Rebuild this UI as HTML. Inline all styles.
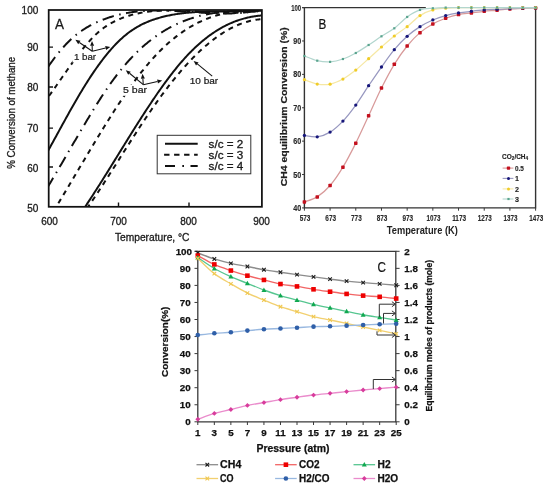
<!DOCTYPE html>
<html><head><meta charset="utf-8"><title>Methane conversion charts</title>
<style>html,body{margin:0;padding:0;background:#fff;} svg{display:block;filter:blur(0.25px);}</style></head>
<body><svg width="550" height="489" viewBox="0 0 550 489">
<rect width="550" height="489" fill="#fff"/>
<g id="chartA" font-family="'Liberation Sans', Arial, Helvetica, sans-serif" fill="#1a1a1a">
<clipPath id="clipA"><rect x="48.7" y="10" width="213.2" height="196.8"/></clipPath>
<g clip-path="url(#clipA)" fill="none" stroke="#111" stroke-width="2">
<path d="M42,76.19 L43.01,74.6 L44.02,73.03 L45.03,71.47 L46.04,69.94 L47.05,68.44 L48.05,66.95 L49.06,65.48 L50.07,64.04 L51.08,62.62 L52.09,61.22 L53.1,59.84 L54.11,58.48 L55.12,57.15 L56.13,55.84 L57.14,54.55 L58.15,53.29 L59.16,52.05 L60.16,50.83 L61.17,49.64 L62.18,48.47 L63.19,47.33 L64.2,46.21 L65.21,45.11 L66.22,44.04 L67.23,43 L68.24,41.98 L69.25,40.99 L70.26,40.02 L71.26,39.07 L72.27,38.16 L73.28,37.27 L74.29,36.4 L75.3,35.56 L76.31,34.74 L77.32,33.94 L78.33,33.17 L79.34,32.42 L80.35,31.69 L81.36,30.98 L82.37,30.29 L83.37,29.62 L84.38,28.97 L85.39,28.34 L86.4,27.72 L87.41,27.12 L88.42,26.54 L89.43,25.98 L90.44,25.43 L91.45,24.89 L92.46,24.37 L93.47,23.87 L94.47,23.37 L95.48,22.89 L96.49,22.42 L97.5,21.96 L98.51,21.52 L99.52,21.08 L100.53,20.66 L101.54,20.24 L102.55,19.84 L103.56,19.45 L104.57,19.06 L105.58,18.69 L106.58,18.33 L107.59,17.98 L108.6,17.64 L109.61,17.3 L110.62,16.98 L111.63,16.67 L112.64,16.36 L113.65,16.07 L114.66,15.79 L115.67,15.51 L116.68,15.24 L117.68,14.98 L118.69,14.74 L119.7,14.5 L120.71,14.26 L121.72,14.04 L122.73,13.82 L123.74,13.62 L124.75,13.42 L125.76,13.23 L126.77,13.04 L127.78,12.87 L128.79,12.7 L129.79,12.54 L130.8,12.38 L131.81,12.24 L132.82,12.1 L133.83,11.97 L134.84,11.84 L135.85,11.72 L136.86,11.61 L137.87,11.51 L138.88,11.41 L139.89,11.31 L140.89,11.23 L141.9,11.14 L142.91,11.07 L143.92,11 L144.93,10.94 L145.94,10.88 L146.95,10.83 L147.96,10.78 L148.97,10.74 L149.98,10.7 L150.99,10.67 L152,10.64 L153,10.62 L154.01,10.6 L155.02,10.58 L156.03,10.57 L157.04,10.57 L158.05,10.57 L159.06,10.57 L160.07,10.58 L161.08,10.59 L162.09,10.6 L163.1,10.62 L164.11,10.64 L165.11,10.66 L166.12,10.69 L167.13,10.72 L168.14,10.75 L169.15,10.79 L170.16,10.82 L171.17,10.86 L172.18,10.91 L173.19,10.95 L174.2,11 L175.21,11.05 L176.21,11.1 L177.22,11.16 L178.23,11.21 L179.24,11.27 L180.25,11.33 L181.26,11.38 L182.27,11.45 L183.28,11.51 L184.29,11.57 L185.3,11.63 L186.31,11.7 L187.32,11.76 L188.32,11.83 L189.33,11.89 L190.34,11.96 L191.35,12.02 L192.36,12.09 L193.37,12.16 L194.38,12.22 L195.39,12.29 L196.4,12.35 L197.41,12.42 L198.42,12.48 L199.42,12.54 L200.43,12.6 L201.44,12.67 L202.45,12.72 L203.46,12.78 L204.47,12.84 L205.48,12.89 L206.49,12.95 L207.5,13 L208.51,13.05 L209.52,13.1 L210.53,13.14 L211.53,13.19 L212.54,13.23 L213.55,13.27 L214.56,13.3 L215.57,13.34 L216.58,13.37 L217.59,13.39 L218.6,13.42 L219.61,13.44 L220.62,13.46 L221.63,13.47 L222.63,13.48 L223.64,13.49 L224.65,13.49 L225.66,13.49 L226.67,13.48 L227.68,13.47 L228.69,13.46 L229.7,13.44 L230.71,13.42 L231.72,13.39 L232.73,13.36 L233.74,13.33 L234.74,13.28 L235.75,13.24 L236.76,13.18 L237.77,13.13 L238.78,13.06 L239.79,12.99 L240.8,12.92 L241.81,12.84 L242.82,12.75 L243.83,12.66 L244.84,12.56 L245.84,12.46 L246.85,12.35 L247.86,12.23 L248.87,12.1 L249.88,11.97 L250.89,11.83 L251.9,11.69 L252.91,11.53 L253.92,11.37 L254.93,11.21 L255.94,11.03 L256.95,10.85 L257.95,10.66 L258.96,10.46 L259.97,10.25 L260.98,10.04 L261.99,9.82 L263,9.59" stroke-dasharray="11.7 5.6 1.5 5.5" stroke-dashoffset="12.72"/>
<path d="M42,105.29 L43.01,103.99 L44.02,102.68 L45.03,101.35 L46.04,100.01 L47.05,98.65 L48.05,97.28 L49.06,95.9 L50.07,94.51 L51.08,93.11 L52.09,91.7 L53.1,90.28 L54.11,88.85 L55.12,87.42 L56.13,85.98 L57.14,84.54 L58.15,83.09 L59.16,81.64 L60.16,80.19 L61.17,78.73 L62.18,77.28 L63.19,75.83 L64.2,74.37 L65.21,72.92 L66.22,71.48 L67.23,70.03 L68.24,68.6 L69.25,67.16 L70.26,65.74 L71.26,64.32 L72.27,62.91 L73.28,61.51 L74.29,60.12 L75.3,58.74 L76.31,57.37 L77.32,56.02 L78.33,54.68 L79.34,53.35 L80.35,52.04 L81.36,50.74 L82.37,49.46 L83.37,48.2 L84.38,46.96 L85.39,45.74 L86.4,44.54 L87.41,43.36 L88.42,42.21 L89.43,41.07 L90.44,39.96 L91.45,38.88 L92.46,37.82 L93.47,36.79 L94.47,35.78 L95.48,34.81 L96.49,33.86 L97.5,32.95 L98.51,32.06 L99.52,31.2 L100.53,30.36 L101.54,29.56 L102.55,28.78 L103.56,28.03 L104.57,27.3 L105.58,26.59 L106.58,25.91 L107.59,25.26 L108.6,24.62 L109.61,24.01 L110.62,23.42 L111.63,22.85 L112.64,22.3 L113.65,21.77 L114.66,21.26 L115.67,20.77 L116.68,20.29 L117.68,19.83 L118.69,19.39 L119.7,18.97 L120.71,18.56 L121.72,18.16 L122.73,17.78 L123.74,17.41 L124.75,17.05 L125.76,16.71 L126.77,16.38 L127.78,16.06 L128.79,15.75 L129.79,15.45 L130.8,15.16 L131.81,14.88 L132.82,14.61 L133.83,14.35 L134.84,14.1 L135.85,13.86 L136.86,13.63 L137.87,13.41 L138.88,13.2 L139.89,13 L140.89,12.8 L141.9,12.62 L142.91,12.44 L143.92,12.27 L144.93,12.11 L145.94,11.96 L146.95,11.82 L147.96,11.68 L148.97,11.55 L149.98,11.43 L150.99,11.32 L152,11.21 L153,11.11 L154.01,11.02 L155.02,10.93 L156.03,10.86 L157.04,10.78 L158.05,10.72 L159.06,10.66 L160.07,10.6 L161.08,10.56 L162.09,10.51 L163.1,10.48 L164.11,10.45 L165.11,10.42 L166.12,10.4 L167.13,10.38 L168.14,10.37 L169.15,10.37 L170.16,10.37 L171.17,10.37 L172.18,10.38 L173.19,10.39 L174.2,10.4 L175.21,10.42 L176.21,10.44 L177.22,10.47 L178.23,10.5 L179.24,10.53 L180.25,10.57 L181.26,10.61 L182.27,10.65 L183.28,10.69 L184.29,10.74 L185.3,10.79 L186.31,10.84 L187.32,10.89 L188.32,10.95 L189.33,11 L190.34,11.06 L191.35,11.12 L192.36,11.18 L193.37,11.24 L194.38,11.31 L195.39,11.37 L196.4,11.44 L197.41,11.5 L198.42,11.57 L199.42,11.63 L200.43,11.7 L201.44,11.76 L202.45,11.83 L203.46,11.89 L204.47,11.96 L205.48,12.02 L206.49,12.09 L207.5,12.15 L208.51,12.21 L209.52,12.27 L210.53,12.33 L211.53,12.39 L212.54,12.44 L213.55,12.49 L214.56,12.55 L215.57,12.59 L216.58,12.64 L217.59,12.69 L218.6,12.73 L219.61,12.77 L220.62,12.8 L221.63,12.84 L222.63,12.87 L223.64,12.89 L224.65,12.92 L225.66,12.94 L226.67,12.95 L227.68,12.96 L228.69,12.97 L229.7,12.98 L230.71,12.97 L231.72,12.97 L232.73,12.96 L233.74,12.94 L234.74,12.92 L235.75,12.9 L236.76,12.87 L237.77,12.83 L238.78,12.79 L239.79,12.75 L240.8,12.69 L241.81,12.63 L242.82,12.57 L243.83,12.5 L244.84,12.42 L245.84,12.34 L246.85,12.24 L247.86,12.15 L248.87,12.04 L249.88,11.93 L250.89,11.81 L251.9,11.68 L252.91,11.55 L253.92,11.4 L254.93,11.25 L255.94,11.09 L256.95,10.93 L257.95,10.75 L258.96,10.57 L259.97,10.38 L260.98,10.17 L261.99,9.96 L263,9.74" stroke-dasharray="5.0 4.6" stroke-dashoffset="7.53"/>
<path d="M42,161.63 L43.01,159.85 L44.02,158.06 L45.03,156.26 L46.04,154.45 L47.05,152.64 L48.05,150.83 L49.06,149 L50.07,147.18 L51.08,145.35 L52.09,143.51 L53.1,141.67 L54.11,139.83 L55.12,137.99 L56.13,136.15 L57.14,134.31 L58.15,132.46 L59.16,130.62 L60.16,128.78 L61.17,126.94 L62.18,125.1 L63.19,123.27 L64.2,121.44 L65.21,119.61 L66.22,117.79 L67.23,115.97 L68.24,114.16 L69.25,112.35 L70.26,110.55 L71.26,108.76 L72.27,106.98 L73.28,105.21 L74.29,103.44 L75.3,101.69 L76.31,99.94 L77.32,98.21 L78.33,96.49 L79.34,94.78 L80.35,93.08 L81.36,91.39 L82.37,89.72 L83.37,88.07 L84.38,86.43 L85.39,84.8 L86.4,83.19 L87.41,81.6 L88.42,80.02 L89.43,78.46 L90.44,76.92 L91.45,75.39 L92.46,73.88 L93.47,72.39 L94.47,70.91 L95.48,69.45 L96.49,68.01 L97.5,66.59 L98.51,65.18 L99.52,63.8 L100.53,62.43 L101.54,61.08 L102.55,59.75 L103.56,58.44 L104.57,57.15 L105.58,55.88 L106.58,54.63 L107.59,53.4 L108.6,52.18 L109.61,50.99 L110.62,49.83 L111.63,48.68 L112.64,47.55 L113.65,46.44 L114.66,45.36 L115.67,44.3 L116.68,43.26 L117.68,42.24 L118.69,41.24 L119.7,40.27 L120.71,39.32 L121.72,38.39 L122.73,37.49 L123.74,36.61 L124.75,35.75 L125.76,34.92 L126.77,34.11 L127.78,33.32 L128.79,32.55 L129.79,31.81 L130.8,31.09 L131.81,30.39 L132.82,29.71 L133.83,29.05 L134.84,28.41 L135.85,27.79 L136.86,27.19 L137.87,26.61 L138.88,26.05 L139.89,25.5 L140.89,24.97 L141.9,24.46 L142.91,23.96 L143.92,23.48 L144.93,23.01 L145.94,22.56 L146.95,22.13 L147.96,21.71 L148.97,21.3 L149.98,20.91 L150.99,20.53 L152,20.16 L153,19.8 L154.01,19.46 L155.02,19.12 L156.03,18.8 L157.04,18.49 L158.05,18.18 L159.06,17.89 L160.07,17.6 L161.08,17.33 L162.09,17.06 L163.1,16.8 L164.11,16.55 L165.11,16.31 L166.12,16.07 L167.13,15.85 L168.14,15.63 L169.15,15.41 L170.16,15.21 L171.17,15.01 L172.18,14.82 L173.19,14.64 L174.2,14.46 L175.21,14.29 L176.21,14.13 L177.22,13.97 L178.23,13.82 L179.24,13.68 L180.25,13.54 L181.26,13.41 L182.27,13.28 L183.28,13.16 L184.29,13.04 L185.3,12.93 L186.31,12.83 L187.32,12.73 L188.32,12.63 L189.33,12.54 L190.34,12.46 L191.35,12.38 L192.36,12.3 L193.37,12.23 L194.38,12.16 L195.39,12.1 L196.4,12.04 L197.41,11.98 L198.42,11.93 L199.42,11.88 L200.43,11.83 L201.44,11.79 L202.45,11.75 L203.46,11.72 L204.47,11.68 L205.48,11.65 L206.49,11.62 L207.5,11.6 L208.51,11.57 L209.52,11.55 L210.53,11.53 L211.53,11.51 L212.54,11.5 L213.55,11.48 L214.56,11.47 L215.57,11.46 L216.58,11.45 L217.59,11.44 L218.6,11.43 L219.61,11.42 L220.62,11.41 L221.63,11.41 L222.63,11.4 L223.64,11.4 L224.65,11.39 L225.66,11.38 L226.67,11.38 L227.68,11.37 L228.69,11.37 L229.7,11.36 L230.71,11.35 L231.72,11.34 L232.73,11.33 L233.74,11.32 L234.74,11.31 L235.75,11.3 L236.76,11.28 L237.77,11.26 L238.78,11.25 L239.79,11.23 L240.8,11.2 L241.81,11.18 L242.82,11.15 L243.83,11.12 L244.84,11.09 L245.84,11.06 L246.85,11.02 L247.86,10.98 L248.87,10.94 L249.88,10.89 L250.89,10.84 L251.9,10.79 L252.91,10.73 L253.92,10.67 L254.93,10.6 L255.94,10.53 L256.95,10.46 L257.95,10.38 L258.96,10.3 L259.97,10.22 L260.98,10.12 L261.99,10.03 L263,9.93"/>
<path d="M42,196.43 L43.01,194.79 L44.02,193.15 L45.03,191.5 L46.04,189.85 L47.05,188.18 L48.05,186.51 L49.06,184.84 L50.07,183.16 L51.08,181.47 L52.09,179.78 L53.1,178.09 L54.11,176.39 L55.12,174.68 L56.13,172.97 L57.14,171.26 L58.15,169.55 L59.16,167.83 L60.16,166.11 L61.17,164.38 L62.18,162.66 L63.19,160.93 L64.2,159.2 L65.21,157.47 L66.22,155.73 L67.23,154 L68.24,152.27 L69.25,150.53 L70.26,148.8 L71.26,147.06 L72.27,145.33 L73.28,143.6 L74.29,141.86 L75.3,140.13 L76.31,138.4 L77.32,136.67 L78.33,134.95 L79.34,133.23 L80.35,131.51 L81.36,129.79 L82.37,128.08 L83.37,126.37 L84.38,124.66 L85.39,122.96 L86.4,121.27 L87.41,119.58 L88.42,117.9 L89.43,116.23 L90.44,114.56 L91.45,112.9 L92.46,111.25 L93.47,109.61 L94.47,107.97 L95.48,106.35 L96.49,104.74 L97.5,103.13 L98.51,101.54 L99.52,99.96 L100.53,98.39 L101.54,96.83 L102.55,95.28 L103.56,93.75 L104.57,92.23 L105.58,90.73 L106.58,89.23 L107.59,87.76 L108.6,86.3 L109.61,84.85 L110.62,83.42 L111.63,82.01 L112.64,80.61 L113.65,79.23 L114.66,77.87 L115.67,76.53 L116.68,75.2 L117.68,73.89 L118.69,72.6 L119.7,71.33 L120.71,70.08 L121.72,68.84 L122.73,67.62 L123.74,66.41 L124.75,65.23 L125.76,64.06 L126.77,62.9 L127.78,61.77 L128.79,60.64 L129.79,59.54 L130.8,58.45 L131.81,57.38 L132.82,56.32 L133.83,55.28 L134.84,54.26 L135.85,53.25 L136.86,52.26 L137.87,51.28 L138.88,50.32 L139.89,49.37 L140.89,48.44 L141.9,47.52 L142.91,46.62 L143.92,45.73 L144.93,44.85 L145.94,43.99 L146.95,43.15 L147.96,42.32 L148.97,41.5 L149.98,40.7 L150.99,39.91 L152,39.13 L153,38.37 L154.01,37.62 L155.02,36.89 L156.03,36.17 L157.04,35.46 L158.05,34.76 L159.06,34.08 L160.07,33.41 L161.08,32.76 L162.09,32.11 L163.1,31.48 L164.11,30.86 L165.11,30.25 L166.12,29.66 L167.13,29.07 L168.14,28.5 L169.15,27.94 L170.16,27.39 L171.17,26.86 L172.18,26.33 L173.19,25.82 L174.2,25.31 L175.21,24.82 L176.21,24.34 L177.22,23.87 L178.23,23.41 L179.24,22.96 L180.25,22.52 L181.26,22.09 L182.27,21.68 L183.28,21.27 L184.29,20.87 L185.3,20.48 L186.31,20.1 L187.32,19.73 L188.32,19.38 L189.33,19.03 L190.34,18.68 L191.35,18.35 L192.36,18.03 L193.37,17.72 L194.38,17.41 L195.39,17.12 L196.4,16.83 L197.41,16.55 L198.42,16.28 L199.42,16.02 L200.43,15.76 L201.44,15.51 L202.45,15.28 L203.46,15.04 L204.47,14.82 L205.48,14.6 L206.49,14.4 L207.5,14.19 L208.51,14 L209.52,13.81 L210.53,13.63 L211.53,13.46 L212.54,13.29 L213.55,13.13 L214.56,12.98 L215.57,12.83 L216.58,12.69 L217.59,12.56 L218.6,12.43 L219.61,12.3 L220.62,12.19 L221.63,12.07 L222.63,11.97 L223.64,11.87 L224.65,11.77 L225.66,11.68 L226.67,11.6 L227.68,11.51 L228.69,11.44 L229.7,11.37 L230.71,11.3 L231.72,11.24 L232.73,11.18 L233.74,11.13 L234.74,11.08 L235.75,11.03 L236.76,10.99 L237.77,10.95 L238.78,10.92 L239.79,10.89 L240.8,10.86 L241.81,10.84 L242.82,10.82 L243.83,10.8 L244.84,10.78 L245.84,10.77 L246.85,10.76 L247.86,10.75 L248.87,10.75 L249.88,10.75 L250.89,10.75 L251.9,10.75 L252.91,10.75 L253.92,10.76 L254.93,10.77 L255.94,10.78 L256.95,10.79 L257.95,10.8 L258.96,10.81 L259.97,10.83 L260.98,10.84 L261.99,10.86 L263,10.88" stroke-dasharray="11.7 5.6 1.5 5.5" stroke-dashoffset="14.32"/>
<path d="M49.2,218.14 L50.18,216.57 L51.15,215 L52.13,213.42 L53.11,211.83 L54.08,210.24 L55.06,208.65 L56.03,207.05 L57.01,205.44 L57.99,203.84 L58.96,202.23 L59.94,200.61 L60.92,198.99 L61.89,197.37 L62.87,195.75 L63.84,194.12 L64.82,192.49 L65.8,190.86 L66.77,189.23 L67.75,187.59 L68.73,185.95 L69.7,184.31 L70.68,182.67 L71.65,181.03 L72.63,179.38 L73.61,177.74 L74.58,176.09 L75.56,174.45 L76.54,172.8 L77.51,171.15 L78.49,169.51 L79.46,167.86 L80.44,166.21 L81.42,164.57 L82.39,162.92 L83.37,161.28 L84.35,159.64 L85.32,157.99 L86.3,156.35 L87.27,154.72 L88.25,153.08 L89.23,151.44 L90.2,149.81 L91.18,148.18 L92.16,146.55 L93.13,144.93 L94.11,143.31 L95.08,141.69 L96.06,140.08 L97.04,138.46 L98.01,136.86 L98.99,135.25 L99.97,133.65 L100.94,132.06 L101.92,130.47 L102.89,128.88 L103.87,127.3 L104.85,125.73 L105.82,124.16 L106.8,122.59 L107.78,121.03 L108.75,119.48 L109.73,117.93 L110.7,116.39 L111.68,114.85 L112.66,113.33 L113.63,111.8 L114.61,110.29 L115.59,108.78 L116.56,107.28 L117.54,105.79 L118.51,104.31 L119.49,102.83 L120.47,101.36 L121.44,99.9 L122.42,98.45 L123.4,97 L124.37,95.57 L125.35,94.15 L126.32,92.73 L127.3,91.32 L128.28,89.93 L129.25,88.54 L130.23,87.16 L131.21,85.79 L132.18,84.44 L133.16,83.09 L134.13,81.76 L135.11,80.43 L136.09,79.12 L137.06,77.82 L138.04,76.53 L139.02,75.25 L139.99,73.98 L140.97,72.73 L141.94,71.49 L142.92,70.26 L143.9,69.04 L144.87,67.83 L145.85,66.64 L146.83,65.46 L147.8,64.3 L148.78,63.15 L149.75,62.01 L150.73,60.89 L151.71,59.78 L152.68,58.68 L153.66,57.6 L154.64,56.54 L155.61,55.49 L156.59,54.45 L157.56,53.43 L158.54,52.42 L159.52,51.42 L160.49,50.44 L161.47,49.48 L162.45,48.53 L163.42,47.59 L164.4,46.66 L165.37,45.75 L166.35,44.86 L167.33,43.97 L168.3,43.1 L169.28,42.25 L170.26,41.41 L171.23,40.58 L172.21,39.76 L173.18,38.96 L174.16,38.17 L175.14,37.39 L176.11,36.63 L177.09,35.88 L178.07,35.14 L179.04,34.41 L180.02,33.7 L180.99,33 L181.97,32.31 L182.95,31.64 L183.92,30.97 L184.9,30.32 L185.88,29.68 L186.85,29.06 L187.83,28.44 L188.8,27.84 L189.78,27.25 L190.76,26.68 L191.73,26.11 L192.71,25.55 L193.69,25.01 L194.66,24.48 L195.64,23.96 L196.61,23.45 L197.59,22.96 L198.57,22.47 L199.54,22 L200.52,21.53 L201.5,21.08 L202.47,20.64 L203.45,20.21 L204.42,19.79 L205.4,19.38 L206.38,18.99 L207.35,18.6 L208.33,18.22 L209.31,17.86 L210.28,17.5 L211.26,17.16 L212.23,16.82 L213.21,16.5 L214.19,16.18 L215.16,15.88 L216.14,15.58 L217.12,15.3 L218.09,15.03 L219.07,14.76 L220.04,14.51 L221.02,14.26 L222,14.03 L222.97,13.8 L223.95,13.58 L224.93,13.38 L225.9,13.18 L226.88,12.99 L227.85,12.81 L228.83,12.64 L229.81,12.48 L230.78,12.32 L231.76,12.18 L232.74,12.05 L233.71,11.92 L234.69,11.8 L235.66,11.69 L236.64,11.59 L237.62,11.5 L238.59,11.42 L239.57,11.34 L240.55,11.27 L241.52,11.21 L242.5,11.16 L243.47,11.12 L244.45,11.09 L245.43,11.06 L246.4,11.04 L247.38,11.03 L248.36,11.02 L249.33,11.03 L250.31,11.04 L251.28,11.06 L252.26,11.08 L253.24,11.11 L254.21,11.15 L255.19,11.2 L256.17,11.26 L257.14,11.32 L258.12,11.39 L259.09,11.46 L260.07,11.54 L261.05,11.63 L262.02,11.73 L263,11.83" stroke-dasharray="5.0 4.6" stroke-dashoffset="1.7"/>
<path d="M78.8,216.05 L79.64,214.84 L80.48,213.62 L81.32,212.4 L82.16,211.17 L83.01,209.93 L83.85,208.69 L84.69,207.44 L85.53,206.19 L86.37,204.93 L87.21,203.67 L88.05,202.4 L88.89,201.12 L89.73,199.84 L90.58,198.56 L91.42,197.27 L92.26,195.98 L93.1,194.68 L93.94,193.38 L94.78,192.08 L95.62,190.77 L96.46,189.45 L97.3,188.14 L98.15,186.82 L98.99,185.49 L99.83,184.17 L100.67,182.84 L101.51,181.5 L102.35,180.17 L103.19,178.83 L104.03,177.49 L104.87,176.15 L105.72,174.8 L106.56,173.45 L107.4,172.11 L108.24,170.75 L109.08,169.4 L109.92,168.05 L110.76,166.69 L111.6,165.33 L112.44,163.98 L113.28,162.62 L114.13,161.26 L114.97,159.9 L115.81,158.54 L116.65,157.17 L117.49,155.81 L118.33,154.45 L119.17,153.09 L120.01,151.73 L120.85,150.36 L121.7,149 L122.54,147.64 L123.38,146.28 L124.22,144.92 L125.06,143.56 L125.9,142.21 L126.74,140.85 L127.58,139.49 L128.42,138.14 L129.27,136.79 L130.11,135.44 L130.95,134.09 L131.79,132.75 L132.63,131.4 L133.47,130.06 L134.31,128.72 L135.15,127.39 L135.99,126.05 L136.84,124.72 L137.68,123.39 L138.52,122.07 L139.36,120.75 L140.2,119.43 L141.04,118.12 L141.88,116.81 L142.72,115.5 L143.56,114.2 L144.41,112.9 L145.25,111.61 L146.09,110.32 L146.93,109.03 L147.77,107.75 L148.61,106.48 L149.45,105.2 L150.29,103.94 L151.13,102.68 L151.98,101.42 L152.82,100.17 L153.66,98.93 L154.5,97.69 L155.34,96.46 L156.18,95.24 L157.02,94.02 L157.86,92.8 L158.7,91.6 L159.55,90.4 L160.39,89.2 L161.23,88.02 L162.07,86.84 L162.91,85.67 L163.75,84.5 L164.59,83.34 L165.43,82.19 L166.27,81.05 L167.12,79.92 L167.96,78.79 L168.8,77.67 L169.64,76.56 L170.48,75.46 L171.32,74.37 L172.16,73.29 L173,72.21 L173.84,71.15 L174.68,70.09 L175.53,69.04 L176.37,68 L177.21,66.98 L178.05,65.96 L178.89,64.95 L179.73,63.95 L180.57,62.96 L181.41,61.98 L182.25,61.01 L183.1,60.06 L183.94,59.11 L184.78,58.17 L185.62,57.25 L186.46,56.33 L187.3,55.43 L188.14,54.54 L188.98,53.66 L189.82,52.79 L190.67,51.93 L191.51,51.08 L192.35,50.25 L193.19,49.42 L194.03,48.61 L194.87,47.81 L195.71,47.01 L196.55,46.23 L197.39,45.46 L198.24,44.7 L199.08,43.95 L199.92,43.22 L200.76,42.49 L201.6,41.77 L202.44,41.07 L203.28,40.37 L204.12,39.69 L204.96,39.01 L205.81,38.35 L206.65,37.69 L207.49,37.05 L208.33,36.42 L209.17,35.79 L210.01,35.18 L210.85,34.58 L211.69,33.99 L212.53,33.41 L213.38,32.83 L214.22,32.27 L215.06,31.72 L215.9,31.18 L216.74,30.65 L217.58,30.12 L218.42,29.61 L219.26,29.11 L220.1,28.62 L220.95,28.13 L221.79,27.66 L222.63,27.19 L223.47,26.74 L224.31,26.3 L225.15,25.86 L225.99,25.43 L226.83,25.02 L227.67,24.61 L228.52,24.21 L229.36,23.83 L230.2,23.45 L231.04,23.08 L231.88,22.72 L232.72,22.36 L233.56,22.02 L234.4,21.69 L235.24,21.36 L236.08,21.05 L236.93,20.74 L237.77,20.44 L238.61,20.15 L239.45,19.87 L240.29,19.6 L241.13,19.34 L241.97,19.09 L242.81,18.84 L243.65,18.6 L244.5,18.38 L245.34,18.16 L246.18,17.94 L247.02,17.74 L247.86,17.55 L248.7,17.36 L249.54,17.18 L250.38,17.01 L251.22,16.85 L252.07,16.7 L252.91,16.56 L253.75,16.42 L254.59,16.29 L255.43,16.17 L256.27,16.06 L257.11,15.95 L257.95,15.85 L258.79,15.77 L259.64,15.68 L260.48,15.61 L261.32,15.55 L262.16,15.49 L263,15.44"/>
<path d="M81.2,216.37 L82.03,215.24 L82.86,214.11 L83.69,212.96 L84.52,211.81 L85.35,210.65 L86.18,209.49 L87.01,208.31 L87.84,207.13 L88.67,205.95 L89.5,204.75 L90.33,203.55 L91.16,202.35 L91.99,201.13 L92.82,199.91 L93.65,198.69 L94.48,197.46 L95.31,196.22 L96.14,194.98 L96.97,193.74 L97.8,192.49 L98.63,191.23 L99.46,189.97 L100.29,188.71 L101.12,187.44 L101.95,186.17 L102.78,184.89 L103.61,183.61 L104.44,182.33 L105.27,181.04 L106.1,179.75 L106.93,178.46 L107.76,177.17 L108.59,175.87 L109.42,174.57 L110.25,173.27 L111.08,171.96 L111.92,170.66 L112.75,169.35 L113.58,168.05 L114.41,166.74 L115.24,165.43 L116.07,164.12 L116.9,162.8 L117.73,161.49 L118.56,160.18 L119.39,158.87 L120.22,157.56 L121.05,156.25 L121.88,154.93 L122.71,153.62 L123.54,152.32 L124.37,151.01 L125.2,149.7 L126.03,148.39 L126.86,147.09 L127.69,145.79 L128.52,144.49 L129.35,143.19 L130.18,141.89 L131.01,140.6 L131.84,139.31 L132.67,138.02 L133.5,136.73 L134.33,135.45 L135.16,134.17 L135.99,132.89 L136.82,131.61 L137.65,130.34 L138.48,129.07 L139.31,127.8 L140.14,126.54 L140.97,125.28 L141.8,124.03 L142.63,122.77 L143.46,121.53 L144.29,120.28 L145.12,119.04 L145.95,117.81 L146.78,116.58 L147.61,115.35 L148.44,114.13 L149.27,112.91 L150.1,111.7 L150.93,110.49 L151.76,109.29 L152.59,108.09 L153.42,106.9 L154.25,105.71 L155.08,104.53 L155.91,103.35 L156.74,102.18 L157.57,101.02 L158.4,99.86 L159.23,98.7 L160.06,97.56 L160.89,96.42 L161.72,95.28 L162.55,94.16 L163.38,93.04 L164.21,91.92 L165.04,90.81 L165.87,89.71 L166.7,88.62 L167.53,87.53 L168.36,86.45 L169.19,85.38 L170.02,84.32 L170.85,83.26 L171.68,82.21 L172.52,81.17 L173.35,80.13 L174.18,79.1 L175.01,78.08 L175.84,77.07 L176.67,76.06 L177.5,75.06 L178.33,74.07 L179.16,73.09 L179.99,72.11 L180.82,71.15 L181.65,70.19 L182.48,69.23 L183.31,68.29 L184.14,67.35 L184.97,66.42 L185.8,65.5 L186.63,64.59 L187.46,63.68 L188.29,62.79 L189.12,61.9 L189.95,61.01 L190.78,60.14 L191.61,59.28 L192.44,58.42 L193.27,57.57 L194.1,56.73 L194.93,55.9 L195.76,55.07 L196.59,54.26 L197.42,53.45 L198.25,52.65 L199.08,51.86 L199.91,51.08 L200.74,50.31 L201.57,49.54 L202.4,48.79 L203.23,48.04 L204.06,47.3 L204.89,46.57 L205.72,45.85 L206.55,45.14 L207.38,44.43 L208.21,43.74 L209.04,43.05 L209.87,42.37 L210.7,41.71 L211.53,41.05 L212.36,40.4 L213.19,39.75 L214.02,39.12 L214.85,38.5 L215.68,37.89 L216.51,37.28 L217.34,36.68 L218.17,36.1 L219,35.52 L219.83,34.95 L220.66,34.4 L221.49,33.85 L222.32,33.31 L223.15,32.78 L223.98,32.26 L224.81,31.75 L225.64,31.24 L226.47,30.75 L227.3,30.27 L228.13,29.8 L228.96,29.33 L229.79,28.88 L230.62,28.44 L231.45,28 L232.28,27.58 L233.12,27.17 L233.95,26.76 L234.78,26.37 L235.61,25.99 L236.44,25.61 L237.27,25.25 L238.1,24.89 L238.93,24.55 L239.76,24.22 L240.59,23.89 L241.42,23.58 L242.25,23.28 L243.08,22.99 L243.91,22.7 L244.74,22.43 L245.57,22.17 L246.4,21.92 L247.23,21.68 L248.06,21.45 L248.89,21.23 L249.72,21.02 L250.55,20.83 L251.38,20.64 L252.21,20.46 L253.04,20.3 L253.87,20.14 L254.7,20 L255.53,19.86 L256.36,19.74 L257.19,19.63 L258.02,19.53 L258.85,19.44 L259.68,19.36 L260.51,19.29 L261.34,19.24 L262.17,19.19 L263,19.16" stroke-dasharray="5.0 4.6" stroke-dashoffset="0.16"/>
</g>
<rect x="48.7" y="10" width="213.2" height="196.8" fill="none" stroke="#111" stroke-width="1.75"/>
<path d="M48.7,47.1h4.3 M48.7,87h4.3 M48.7,128.1h4.3 M48.7,167h4.3 M118.5,206.8v-4.3 M189,206.8v-4.3" stroke="#111" stroke-width="1.4" fill="none"/>
<text x="38.3" y="13.8" font-size="10" text-anchor="end" stroke="#1a1a1a" stroke-width="0.3">100</text>
<text x="38.3" y="50.9" font-size="10" text-anchor="end" stroke="#1a1a1a" stroke-width="0.3">90</text>
<text x="38.3" y="90.8" font-size="10" text-anchor="end" stroke="#1a1a1a" stroke-width="0.3">80</text>
<text x="38.3" y="132.3" font-size="10" text-anchor="end" stroke="#1a1a1a" stroke-width="0.3">70</text>
<text x="38.3" y="171.6" font-size="10" text-anchor="end" stroke="#1a1a1a" stroke-width="0.3">60</text>
<text x="38.3" y="212.2" font-size="10" text-anchor="end" stroke="#1a1a1a" stroke-width="0.3">50</text>
<text x="49.5" y="225" font-size="10" text-anchor="middle" stroke="#1a1a1a" stroke-width="0.3">600</text>
<text x="118.5" y="225" font-size="10" text-anchor="middle" stroke="#1a1a1a" stroke-width="0.3">700</text>
<text x="188.6" y="225" font-size="10" text-anchor="middle" stroke="#1a1a1a" stroke-width="0.3">800</text>
<text x="261.5" y="225" font-size="10" text-anchor="middle" stroke="#1a1a1a" stroke-width="0.3">900</text>
<text x="152.2" y="240.5" font-size="10" text-anchor="middle" stroke="#1a1a1a" stroke-width="0.3" textLength="74.6" lengthAdjust="spacingAndGlyphs">Temperature, °C</text>
<text transform="translate(14.6,112.8) rotate(-90)" font-size="10.6" text-anchor="middle" stroke="#1a1a1a" stroke-width="0.3" textLength="112" lengthAdjust="spacingAndGlyphs">% Conversion of methane</text>
<text x="55.1" y="28.8" font-size="15.2" stroke="#1a1a1a" stroke-width="0.3" textLength="9" lengthAdjust="spacingAndGlyphs">A</text>
<rect x="72.5" y="51.6" width="25" height="10.9" fill="#fff"/>
<rect x="121.8" y="84.9" width="26" height="10.9" fill="#fff"/>
<rect x="188.5" y="75.6" width="31" height="11.5" fill="#fff"/>
<text x="73.9" y="59.5" font-size="9.5" stroke="#1a1a1a" stroke-width="0.22" textLength="22.2" lengthAdjust="spacingAndGlyphs">1 bar</text>
<text x="123.1" y="93.2" font-size="9.5" stroke="#1a1a1a" stroke-width="0.22" textLength="24" lengthAdjust="spacingAndGlyphs">5 bar</text>
<text x="189.8" y="84.4" font-size="9.5" stroke="#1a1a1a" stroke-width="0.22" textLength="28.4" lengthAdjust="spacingAndGlyphs">10 bar</text>
<path d="M92.3,51.3L79.37,42.5" stroke="#111" stroke-width="1.05" fill="none"/><path d="M75.4,39.8L80.49,40.85L78.24,44.15Z" fill="#111"/>
<path d="M92.3,51.3L92.14,45.7" stroke="#111" stroke-width="1.05" fill="none"/><path d="M92,40.9L94.14,45.64L90.14,45.76Z" fill="#111"/>
<path d="M92.3,51.3L105.64,48.04" stroke="#111" stroke-width="1.05" fill="none"/><path d="M110.3,46.9L106.11,49.98L105.16,46.1Z" fill="#111"/>
<path d="M143.3,84.7L129.5,73.26" stroke="#111" stroke-width="1.05" fill="none"/><path d="M125.8,70.2L130.77,71.72L128.22,74.8Z" fill="#111"/>
<path d="M143.3,84.7L142.85,78.59" stroke="#111" stroke-width="1.05" fill="none"/><path d="M142.5,73.8L144.85,78.44L140.86,78.73Z" fill="#111"/>
<path d="M143.3,84.7L157.52,81.46" stroke="#111" stroke-width="1.05" fill="none"/><path d="M162.2,80.4L157.96,83.42L157.08,79.51Z" fill="#111"/>
<path d="M212.2,76.2L197.31,63.95" stroke="#111" stroke-width="1.05" fill="none"/><path d="M193.6,60.9L198.58,62.4L196.04,65.49Z" fill="#111"/>
<rect x="157.2" y="135.3" width="93.6" height="38.5" fill="#fff" stroke="#333" stroke-width="1"/>
<path d="M165,143.8H197.7" stroke="#111" stroke-width="2"/>
<path d="M164.1,154.7H197.7" stroke="#111" stroke-width="2" stroke-dasharray="5.4 4.6"/>
<path d="M165,166H197.7" stroke="#111" stroke-width="2" stroke-dasharray="10 7.3 1.7 6.5"/>
<text x="208.6" y="147.5" font-size="10.2" stroke="#1a1a1a" stroke-width="0.3" textLength="34.6" lengthAdjust="spacingAndGlyphs">s/c = 2</text>
<text x="208.6" y="158.6" font-size="10.2" stroke="#1a1a1a" stroke-width="0.3" textLength="34.6" lengthAdjust="spacingAndGlyphs">s/c = 3</text>
<text x="208.6" y="169.7" font-size="10.2" stroke="#1a1a1a" stroke-width="0.3" textLength="34.6" lengthAdjust="spacingAndGlyphs">s/c = 4</text>
</g>
<g id="chartB" font-family="'Liberation Sans', Arial, Helvetica, sans-serif">
<path d="M304.4,7.6V207.9H535.6V7.6M302.2,7.6H425.8" fill="none" stroke="#333" stroke-width="1.4"/>
<path d="M302,207.9H304.4 M302,174.52H304.4 M302,141.13H304.4 M302,107.75H304.4 M302,74.37H304.4 M302,40.98H304.4 M302,7.6H304.4 M304.4,207.9v2.8 M330.09,207.9v2.8 M355.78,207.9v2.8 M381.47,207.9v2.8 M407.16,207.9v2.8 M432.84,207.9v2.8 M458.53,207.9v2.8 M484.22,207.9v2.8 M509.91,207.9v2.8 M535.6,207.9v2.8" stroke="#3a3a3a" stroke-width="1" fill="none"/>
<text x="301.2" y="211" font-size="8.7" font-weight="bold" fill="#2a2a2a" stroke="#2a2a2a" stroke-width="0.15" text-anchor="end" textLength="8" lengthAdjust="spacingAndGlyphs">40</text>
<text x="301.2" y="177.62" font-size="8.7" font-weight="bold" fill="#2a2a2a" stroke="#2a2a2a" stroke-width="0.15" text-anchor="end" textLength="8" lengthAdjust="spacingAndGlyphs">50</text>
<text x="301.2" y="144.23" font-size="8.7" font-weight="bold" fill="#2a2a2a" stroke="#2a2a2a" stroke-width="0.15" text-anchor="end" textLength="8" lengthAdjust="spacingAndGlyphs">60</text>
<text x="301.2" y="110.85" font-size="8.7" font-weight="bold" fill="#2a2a2a" stroke="#2a2a2a" stroke-width="0.15" text-anchor="end" textLength="8" lengthAdjust="spacingAndGlyphs">70</text>
<text x="301.2" y="77.47" font-size="8.7" font-weight="bold" fill="#2a2a2a" stroke="#2a2a2a" stroke-width="0.15" text-anchor="end" textLength="8" lengthAdjust="spacingAndGlyphs">80</text>
<text x="301.2" y="44.08" font-size="8.7" font-weight="bold" fill="#2a2a2a" stroke="#2a2a2a" stroke-width="0.15" text-anchor="end" textLength="8" lengthAdjust="spacingAndGlyphs">90</text>
<text x="301.2" y="10.7" font-size="8.7" font-weight="bold" fill="#2a2a2a" stroke="#2a2a2a" stroke-width="0.15" text-anchor="end" textLength="10" lengthAdjust="spacingAndGlyphs">100</text>
<text x="305" y="220.6" font-size="8.7" font-weight="bold" fill="#2a2a2a" stroke="#2a2a2a" stroke-width="0.15" text-anchor="middle" textLength="10.7" lengthAdjust="spacingAndGlyphs">573</text>
<text x="330.69" y="220.6" font-size="8.7" font-weight="bold" fill="#2a2a2a" stroke="#2a2a2a" stroke-width="0.15" text-anchor="middle" textLength="10.7" lengthAdjust="spacingAndGlyphs">673</text>
<text x="356.38" y="220.6" font-size="8.7" font-weight="bold" fill="#2a2a2a" stroke="#2a2a2a" stroke-width="0.15" text-anchor="middle" textLength="10.7" lengthAdjust="spacingAndGlyphs">773</text>
<text x="382.07" y="220.6" font-size="8.7" font-weight="bold" fill="#2a2a2a" stroke="#2a2a2a" stroke-width="0.15" text-anchor="middle" textLength="10.7" lengthAdjust="spacingAndGlyphs">873</text>
<text x="407.76" y="220.6" font-size="8.7" font-weight="bold" fill="#2a2a2a" stroke="#2a2a2a" stroke-width="0.15" text-anchor="middle" textLength="10.7" lengthAdjust="spacingAndGlyphs">973</text>
<text x="433.44" y="220.6" font-size="8.7" font-weight="bold" fill="#2a2a2a" stroke="#2a2a2a" stroke-width="0.15" text-anchor="middle" textLength="14" lengthAdjust="spacingAndGlyphs">1073</text>
<text x="459.13" y="220.6" font-size="8.7" font-weight="bold" fill="#2a2a2a" stroke="#2a2a2a" stroke-width="0.15" text-anchor="middle" textLength="14" lengthAdjust="spacingAndGlyphs">1173</text>
<text x="484.82" y="220.6" font-size="8.7" font-weight="bold" fill="#2a2a2a" stroke="#2a2a2a" stroke-width="0.15" text-anchor="middle" textLength="14" lengthAdjust="spacingAndGlyphs">1273</text>
<text x="510.51" y="220.6" font-size="8.7" font-weight="bold" fill="#2a2a2a" stroke="#2a2a2a" stroke-width="0.15" text-anchor="middle" textLength="14" lengthAdjust="spacingAndGlyphs">1373</text>
<text x="536.2" y="220.6" font-size="8.7" font-weight="bold" fill="#2a2a2a" stroke="#2a2a2a" stroke-width="0.15" text-anchor="middle" textLength="14" lengthAdjust="spacingAndGlyphs">1473</text>
<text x="422.3" y="234" font-size="10.5" font-weight="bold" fill="#222" text-anchor="middle" textLength="71" lengthAdjust="spacingAndGlyphs">Temperature (K)</text>
<text transform="translate(286.9,106.7) rotate(-90)" font-size="9.6" font-weight="bold" fill="#1e1e1e" stroke="#1e1e1e" stroke-width="0.25" text-anchor="middle" textLength="159" lengthAdjust="spacingAndGlyphs">CH4 equilibrium Conversion (%)</text>
<text x="318.6" y="28.9" font-size="15.3" fill="#111" stroke="#111" stroke-width="0.2" textLength="7.8" lengthAdjust="spacingAndGlyphs">B</text>
<path d="M304.4,201.89 C306.54,201.06 312.96,199.61 317.24,196.88 C321.53,194.16 325.81,190.49 330.09,185.53 C334.37,180.58 338.65,174.24 342.93,167.17 C347.21,160.11 351.5,151.7 355.78,143.14 C360.06,134.57 364.34,124.94 368.62,115.76 C372.9,106.58 377.19,96.62 381.47,88.05 C385.75,79.49 390.03,71.36 394.31,64.35 C398.59,57.34 402.87,51.28 407.16,45.99 C411.44,40.71 415.72,36.31 420,32.64 C424.28,28.97 428.56,26.35 432.84,23.96 C437.13,21.57 441.41,19.84 445.69,18.28 C449.97,16.72 454.25,15.5 458.53,14.61 C462.81,13.72 467.1,13.5 471.38,12.94 C475.66,12.38 479.94,11.72 484.22,11.27 C488.5,10.83 492.79,10.66 497.07,10.27 C501.35,9.88 505.63,9.27 509.91,8.94 C514.19,8.6 518.47,8.43 522.76,8.27 C527.04,8.1 533.46,7.99 535.6,7.93" fill="none" stroke="#d89a9a" stroke-width="1.25"/>
<rect x="302.65" y="200.14" width="3.5" height="3.5" rx="0.7" fill="#c4101e"/>
<rect x="315.49" y="195.13" width="3.5" height="3.5" rx="0.7" fill="#c4101e"/>
<rect x="328.34" y="183.78" width="3.5" height="3.5" rx="0.7" fill="#c4101e"/>
<rect x="341.18" y="165.42" width="3.5" height="3.5" rx="0.7" fill="#c4101e"/>
<rect x="354.03" y="141.39" width="3.5" height="3.5" rx="0.7" fill="#c4101e"/>
<rect x="366.87" y="114.01" width="3.5" height="3.5" rx="0.7" fill="#c4101e"/>
<rect x="379.72" y="86.3" width="3.5" height="3.5" rx="0.7" fill="#c4101e"/>
<rect x="392.56" y="62.6" width="3.5" height="3.5" rx="0.7" fill="#c4101e"/>
<rect x="405.41" y="44.24" width="3.5" height="3.5" rx="0.7" fill="#c4101e"/>
<rect x="418.25" y="30.89" width="3.5" height="3.5" rx="0.7" fill="#c4101e"/>
<rect x="431.09" y="22.21" width="3.5" height="3.5" rx="0.7" fill="#c4101e"/>
<rect x="443.94" y="16.53" width="3.5" height="3.5" rx="0.7" fill="#c4101e"/>
<rect x="456.78" y="12.86" width="3.5" height="3.5" rx="0.7" fill="#c4101e"/>
<rect x="469.63" y="11.19" width="3.5" height="3.5" rx="0.7" fill="#c4101e"/>
<rect x="482.47" y="9.52" width="3.5" height="3.5" rx="0.7" fill="#c4101e"/>
<rect x="495.32" y="8.52" width="3.5" height="3.5" rx="0.7" fill="#c4101e"/>
<rect x="508.16" y="7.19" width="3.5" height="3.5" rx="0.7" fill="#c4101e"/>
<rect x="521.01" y="6.52" width="3.5" height="3.5" rx="0.7" fill="#c4101e"/>
<rect x="533.85" y="6.18" width="3.5" height="3.5" rx="0.7" fill="#c4101e"/>
<path d="M304.4,135.46 C306.54,135.68 312.96,137.35 317.24,136.79 C321.53,136.24 325.81,134.73 330.09,132.12 C334.37,129.5 338.65,125.61 342.93,121.1 C347.21,116.6 351.5,110.98 355.78,105.08 C360.06,99.18 364.34,92.06 368.62,85.72 C372.9,79.37 377.19,73.03 381.47,67.02 C385.75,61.01 390.03,54.78 394.31,49.66 C398.59,44.54 402.87,40.15 407.16,36.31 C411.44,32.47 415.72,29.35 420,26.63 C424.28,23.9 428.56,21.79 432.84,19.95 C437.13,18.12 441.41,16.78 445.69,15.61 C449.97,14.44 454.25,13.66 458.53,12.94 C462.81,12.22 467.1,11.77 471.38,11.27 C475.66,10.77 479.94,10.27 484.22,9.94 C488.5,9.6 492.79,9.49 497.07,9.27 C501.35,9.05 505.63,8.8 509.91,8.6 C514.19,8.41 518.47,8.21 522.76,8.1 C527.04,7.99 533.46,7.96 535.6,7.93" fill="none" stroke="#9898c0" stroke-width="1.25"/>
<circle cx="304.4" cy="135.46" r="1.65" fill="#16167a"/>
<circle cx="317.24" cy="136.79" r="1.65" fill="#16167a"/>
<circle cx="330.09" cy="132.12" r="1.65" fill="#16167a"/>
<circle cx="342.93" cy="121.1" r="1.65" fill="#16167a"/>
<circle cx="355.78" cy="105.08" r="1.65" fill="#16167a"/>
<circle cx="368.62" cy="85.72" r="1.65" fill="#16167a"/>
<circle cx="381.47" cy="67.02" r="1.65" fill="#16167a"/>
<circle cx="394.31" cy="49.66" r="1.65" fill="#16167a"/>
<circle cx="407.16" cy="36.31" r="1.65" fill="#16167a"/>
<circle cx="420" cy="26.63" r="1.65" fill="#16167a"/>
<circle cx="432.84" cy="19.95" r="1.65" fill="#16167a"/>
<circle cx="445.69" cy="15.61" r="1.65" fill="#16167a"/>
<circle cx="458.53" cy="12.94" r="1.65" fill="#16167a"/>
<circle cx="471.38" cy="11.27" r="1.65" fill="#16167a"/>
<circle cx="484.22" cy="9.94" r="1.65" fill="#16167a"/>
<circle cx="497.07" cy="9.27" r="1.65" fill="#16167a"/>
<circle cx="509.91" cy="8.6" r="1.65" fill="#16167a"/>
<circle cx="522.76" cy="8.1" r="1.65" fill="#16167a"/>
<circle cx="535.6" cy="7.93" r="1.65" fill="#16167a"/>
<path d="M304.4,79.71 C306.54,80.43 312.96,83.3 317.24,84.05 C321.53,84.79 325.81,85.02 330.09,84.18 C334.37,83.35 338.65,81.4 342.93,79.04 C347.21,76.68 351.5,73.42 355.78,70.03 C360.06,66.63 364.34,62.52 368.62,58.68 C372.9,54.84 377.19,50.78 381.47,46.99 C385.75,43.21 390.03,39.37 394.31,35.98 C398.59,32.58 402.87,30.02 407.16,26.63 C411.44,23.23 415.72,18.39 420,15.61 C424.28,12.83 428.56,11.16 432.84,9.94 C437.13,8.71 441.41,8.66 445.69,8.27 C449.97,7.88 454.25,7.71 458.53,7.6 C462.81,7.49 467.1,7.6 471.38,7.6 C475.66,7.6 479.94,7.6 484.22,7.6 C488.5,7.6 492.79,7.6 497.07,7.6 C501.35,7.6 505.63,7.6 509.91,7.6 C514.19,7.6 518.47,7.6 522.76,7.6 C527.04,7.6 533.46,7.6 535.6,7.6" fill="none" stroke="#f6e8a4" stroke-width="1.25"/>
<circle cx="304.4" cy="79.71" r="1.6" fill="#f0cc28"/>
<circle cx="317.24" cy="84.05" r="1.6" fill="#f0cc28"/>
<circle cx="330.09" cy="84.18" r="1.6" fill="#f0cc28"/>
<circle cx="342.93" cy="79.04" r="1.6" fill="#f0cc28"/>
<circle cx="355.78" cy="70.03" r="1.6" fill="#f0cc28"/>
<circle cx="368.62" cy="58.68" r="1.6" fill="#f0cc28"/>
<circle cx="381.47" cy="46.99" r="1.6" fill="#f0cc28"/>
<circle cx="394.31" cy="35.98" r="1.6" fill="#f0cc28"/>
<circle cx="407.16" cy="26.63" r="1.6" fill="#f0cc28"/>
<circle cx="420" cy="15.61" r="1.6" fill="#f0cc28"/>
<circle cx="432.84" cy="9.94" r="1.6" fill="#f0cc28"/>
<circle cx="445.69" cy="8.27" r="1.6" fill="#f0cc28"/>
<circle cx="458.53" cy="7.6" r="1.6" fill="#f0cc28"/>
<circle cx="471.38" cy="7.6" r="1.6" fill="#f0cc28"/>
<circle cx="484.22" cy="7.6" r="1.6" fill="#f0cc28"/>
<circle cx="497.07" cy="7.6" r="1.6" fill="#f0cc28"/>
<circle cx="509.91" cy="7.6" r="1.6" fill="#f0cc28"/>
<circle cx="522.76" cy="7.6" r="1.6" fill="#f0cc28"/>
<circle cx="535.6" cy="7.6" r="1.6" fill="#f0cc28"/>
<path d="M304.4,56.01 C306.54,56.78 312.96,59.71 317.24,60.68 C321.53,61.65 325.81,62.13 330.09,61.85 C334.37,61.57 338.65,60.48 342.93,59.01 C347.21,57.54 351.5,55.34 355.78,53 C360.06,50.66 364.34,47.77 368.62,44.99 C372.9,42.21 377.19,39.09 381.47,36.31 C385.75,33.53 390.03,31.52 394.31,28.3 C398.59,25.07 402.87,20.01 407.16,16.95 C411.44,13.89 415.72,11.38 420,9.94 C424.28,8.49 428.56,8.66 432.84,8.27 C437.13,7.88 441.41,7.71 445.69,7.6 C449.97,7.49 454.25,7.6 458.53,7.6 C462.81,7.6 467.1,7.6 471.38,7.6 C475.66,7.6 479.94,7.6 484.22,7.6 C488.5,7.6 492.79,7.6 497.07,7.6 C501.35,7.6 505.63,7.6 509.91,7.6 C514.19,7.6 518.47,7.6 522.76,7.6 C527.04,7.6 533.46,7.6 535.6,7.6" fill="none" stroke="#b2d6ce" stroke-width="1.25"/>
<rect x="303.3" y="54.91" width="2.2" height="2.2" fill="#5aa48e"/>
<rect x="316.14" y="59.58" width="2.2" height="2.2" fill="#5aa48e"/>
<rect x="328.99" y="60.75" width="2.2" height="2.2" fill="#5aa48e"/>
<rect x="341.83" y="57.91" width="2.2" height="2.2" fill="#5aa48e"/>
<rect x="354.68" y="51.9" width="2.2" height="2.2" fill="#5aa48e"/>
<rect x="367.52" y="43.89" width="2.2" height="2.2" fill="#5aa48e"/>
<rect x="380.37" y="35.21" width="2.2" height="2.2" fill="#5aa48e"/>
<rect x="393.21" y="27.2" width="2.2" height="2.2" fill="#5aa48e"/>
<rect x="406.06" y="15.85" width="2.2" height="2.2" fill="#5aa48e"/>
<rect x="418.9" y="8.84" width="2.2" height="2.2" fill="#5aa48e"/>
<rect x="431.74" y="7.17" width="2.2" height="2.2" fill="#5aa48e"/>
<rect x="444.59" y="6.5" width="2.2" height="2.2" fill="#5aa48e"/>
<rect x="457.43" y="6.5" width="2.2" height="2.2" fill="#5aa48e"/>
<rect x="470.28" y="6.5" width="2.2" height="2.2" fill="#5aa48e"/>
<rect x="483.12" y="6.5" width="2.2" height="2.2" fill="#5aa48e"/>
<rect x="495.97" y="6.5" width="2.2" height="2.2" fill="#5aa48e"/>
<rect x="508.81" y="6.5" width="2.2" height="2.2" fill="#5aa48e"/>
<rect x="521.66" y="6.5" width="2.2" height="2.2" fill="#5aa48e"/>
<rect x="534.5" y="6.5" width="2.2" height="2.2" fill="#5aa48e"/>
<text x="502.1" y="158.6" font-size="7.2" font-weight="bold" fill="#222" stroke="#222" stroke-width="0.15" textLength="26" lengthAdjust="spacingAndGlyphs">CO<tspan font-size="5.2" dy="1.7">2</tspan><tspan dy="-1.7">/CH</tspan><tspan font-size="5.2" dy="1.7">4</tspan></text>
<path d="M502.6,168.1H513.4" stroke="#d89a9a" stroke-width="1.1"/>
<rect x="506.8" y="166.4" width="3.4" height="3.4" rx="0.7" fill="#c4101e"/>
<text x="514.9" y="171" font-size="7.8" font-weight="bold" fill="#222" stroke="#222" stroke-width="0.12" textLength="8.9" lengthAdjust="spacingAndGlyphs">0.5</text>
<path d="M502.6,178.4H513.4" stroke="#9898c0" stroke-width="1.1"/>
<circle cx="508.5" cy="178.4" r="1.5" fill="#16167a"/>
<text x="514.9" y="181.3" font-size="7.8" font-weight="bold" fill="#222" stroke="#222" stroke-width="0.12" textLength="4" lengthAdjust="spacingAndGlyphs">1</text>
<path d="M502.6,188.9H513.4" stroke="#f6e8a4" stroke-width="1.1"/>
<circle cx="508.5" cy="188.9" r="1.5" fill="#f0cc28"/>
<text x="514.9" y="191.8" font-size="7.8" font-weight="bold" fill="#222" stroke="#222" stroke-width="0.12" textLength="4" lengthAdjust="spacingAndGlyphs">2</text>
<path d="M502.6,199H513.4" stroke="#b2d6ce" stroke-width="1.1"/>
<rect x="507.4" y="197.9" width="2.2" height="2.2" fill="#5aa48e"/>
<text x="514.9" y="201.9" font-size="7.8" font-weight="bold" fill="#222" stroke="#222" stroke-width="0.12" textLength="4" lengthAdjust="spacingAndGlyphs">3</text>
</g>
<g id="chartC" font-family="'Liberation Sans', Arial, Helvetica, sans-serif">
<path d="M197.8,251.3V421.8H395.8V251.3H194.8" fill="none" stroke="#3a3a3a" stroke-width="1.3"/>
<path d="M194.5,421.8H197.8 M194.5,404.75H197.8 M194.5,387.7H197.8 M194.5,370.65H197.8 M194.5,353.6H197.8 M194.5,336.55H197.8 M194.5,319.5H197.8 M194.5,302.45H197.8 M194.5,285.4H197.8 M194.5,268.35H197.8 M194.5,251.3H197.8 M395.8,421.8H399.6 M395.8,404.75H399.6 M395.8,387.7H399.6 M395.8,370.65H399.6 M395.8,353.6H399.6 M395.8,336.55H399.6 M395.8,319.5H399.6 M395.8,302.45H399.6 M395.8,285.4H399.6 M395.8,268.35H399.6 M395.8,251.3H399.6 M197.8,421.8v3.2 M214.33,421.8v3.2 M230.87,421.8v3.2 M247.4,421.8v3.2 M263.93,421.8v3.2 M280.47,421.8v3.2 M297,421.8v3.2 M313.53,421.8v3.2 M330.07,421.8v3.2 M346.6,421.8v3.2 M363.13,421.8v3.2 M379.67,421.8v3.2 M396.2,421.8v3.2" stroke="#3a3a3a" stroke-width="1" fill="none"/>
<text x="190.6" y="425.3" font-size="9.8" font-weight="bold" fill="#111" stroke="#111" stroke-width="0.25" text-anchor="end">0</text>
<text x="190.6" y="408.25" font-size="9.8" font-weight="bold" fill="#111" stroke="#111" stroke-width="0.25" text-anchor="end">10</text>
<text x="190.6" y="391.2" font-size="9.8" font-weight="bold" fill="#111" stroke="#111" stroke-width="0.25" text-anchor="end">20</text>
<text x="190.6" y="374.15" font-size="9.8" font-weight="bold" fill="#111" stroke="#111" stroke-width="0.25" text-anchor="end">30</text>
<text x="190.6" y="357.1" font-size="9.8" font-weight="bold" fill="#111" stroke="#111" stroke-width="0.25" text-anchor="end">40</text>
<text x="190.6" y="340.05" font-size="9.8" font-weight="bold" fill="#111" stroke="#111" stroke-width="0.25" text-anchor="end">50</text>
<text x="190.6" y="323" font-size="9.8" font-weight="bold" fill="#111" stroke="#111" stroke-width="0.25" text-anchor="end">60</text>
<text x="190.6" y="305.95" font-size="9.8" font-weight="bold" fill="#111" stroke="#111" stroke-width="0.25" text-anchor="end">70</text>
<text x="190.6" y="288.9" font-size="9.8" font-weight="bold" fill="#111" stroke="#111" stroke-width="0.25" text-anchor="end">80</text>
<text x="190.6" y="271.85" font-size="9.8" font-weight="bold" fill="#111" stroke="#111" stroke-width="0.25" text-anchor="end">90</text>
<text x="192" y="254.8" font-size="9.8" font-weight="bold" fill="#111" stroke="#111" stroke-width="0.25" text-anchor="end">100</text>
<text x="404.3" y="425.3" font-size="9.8" font-weight="bold" fill="#111" stroke="#111" stroke-width="0.25">0</text>
<text x="404.3" y="408.25" font-size="9.8" font-weight="bold" fill="#111" stroke="#111" stroke-width="0.25">0.2</text>
<text x="404.3" y="391.2" font-size="9.8" font-weight="bold" fill="#111" stroke="#111" stroke-width="0.25">0.4</text>
<text x="404.3" y="374.15" font-size="9.8" font-weight="bold" fill="#111" stroke="#111" stroke-width="0.25">0.6</text>
<text x="404.3" y="357.1" font-size="9.8" font-weight="bold" fill="#111" stroke="#111" stroke-width="0.25">0.8</text>
<text x="404.3" y="340.05" font-size="9.8" font-weight="bold" fill="#111" stroke="#111" stroke-width="0.25">1</text>
<text x="404.3" y="323" font-size="9.8" font-weight="bold" fill="#111" stroke="#111" stroke-width="0.25">1.2</text>
<text x="404.3" y="305.95" font-size="9.8" font-weight="bold" fill="#111" stroke="#111" stroke-width="0.25">1.4</text>
<text x="404.3" y="288.9" font-size="9.8" font-weight="bold" fill="#111" stroke="#111" stroke-width="0.25">1.6</text>
<text x="404.3" y="271.85" font-size="9.8" font-weight="bold" fill="#111" stroke="#111" stroke-width="0.25">1.8</text>
<text x="404.3" y="254.8" font-size="9.8" font-weight="bold" fill="#111" stroke="#111" stroke-width="0.25">2</text>
<text x="197.8" y="436.4" font-size="9.8" font-weight="bold" fill="#111" stroke="#111" stroke-width="0.25" text-anchor="middle">1</text>
<text x="214.33" y="436.4" font-size="9.8" font-weight="bold" fill="#111" stroke="#111" stroke-width="0.25" text-anchor="middle">3</text>
<text x="230.87" y="436.4" font-size="9.8" font-weight="bold" fill="#111" stroke="#111" stroke-width="0.25" text-anchor="middle">5</text>
<text x="247.4" y="436.4" font-size="9.8" font-weight="bold" fill="#111" stroke="#111" stroke-width="0.25" text-anchor="middle">7</text>
<text x="263.93" y="436.4" font-size="9.8" font-weight="bold" fill="#111" stroke="#111" stroke-width="0.25" text-anchor="middle">9</text>
<text x="280.47" y="436.4" font-size="9.8" font-weight="bold" fill="#111" stroke="#111" stroke-width="0.25" text-anchor="middle">11</text>
<text x="297" y="436.4" font-size="9.8" font-weight="bold" fill="#111" stroke="#111" stroke-width="0.25" text-anchor="middle">13</text>
<text x="313.53" y="436.4" font-size="9.8" font-weight="bold" fill="#111" stroke="#111" stroke-width="0.25" text-anchor="middle">15</text>
<text x="330.07" y="436.4" font-size="9.8" font-weight="bold" fill="#111" stroke="#111" stroke-width="0.25" text-anchor="middle">17</text>
<text x="346.6" y="436.4" font-size="9.8" font-weight="bold" fill="#111" stroke="#111" stroke-width="0.25" text-anchor="middle">19</text>
<text x="363.13" y="436.4" font-size="9.8" font-weight="bold" fill="#111" stroke="#111" stroke-width="0.25" text-anchor="middle">21</text>
<text x="379.67" y="436.4" font-size="9.8" font-weight="bold" fill="#111" stroke="#111" stroke-width="0.25" text-anchor="middle">23</text>
<text x="396.2" y="436.4" font-size="9.8" font-weight="bold" fill="#111" stroke="#111" stroke-width="0.25" text-anchor="middle">25</text>
<text x="293" y="451.6" font-size="10" font-weight="bold" fill="#111" stroke="#111" stroke-width="0.25" text-anchor="middle" textLength="73" lengthAdjust="spacingAndGlyphs">Pressure (atm)</text>
<text transform="translate(168.4,341.8) rotate(-90)" font-size="9.5" font-weight="bold" fill="#111" stroke="#111" stroke-width="0.25" text-anchor="middle" textLength="70.4" lengthAdjust="spacingAndGlyphs">Conversion(%)</text>
<text transform="translate(432.3,335.7) rotate(-90)" font-size="9" font-weight="bold" fill="#111" stroke="#111" stroke-width="0.25" text-anchor="middle" textLength="151.5" lengthAdjust="spacingAndGlyphs">Equilibrium moles of products (mole)</text>
<text x="377.4" y="271.8" font-size="14.6" fill="#111" stroke="#111" stroke-width="0.2" textLength="8.4" lengthAdjust="spacingAndGlyphs">C</text>
<path d="M197.8,253.01 C200.56,254 208.82,257.24 214.33,258.97 C219.84,260.71 225.36,262.16 230.87,263.41 C236.38,264.66 241.89,265.42 247.4,266.47 C252.91,267.53 258.42,268.75 263.93,269.71 C269.44,270.68 274.96,271.45 280.47,272.27 C285.98,273.1 291.49,273.89 297,274.66 C302.51,275.43 308.02,276.14 313.53,276.88 C319.04,277.61 324.56,278.38 330.07,279.09 C335.58,279.8 341.09,280.54 346.6,281.14 C352.11,281.73 357.62,282.22 363.13,282.67 C368.64,283.13 374.16,283.44 379.67,283.87 C385.18,284.29 393.44,285 396.2,285.23" fill="none" stroke="#8c8c8c" stroke-width="1.35"/>
<path d="M197.8,255.56 C200.56,257.04 208.82,261.93 214.33,264.43 C219.84,266.93 225.36,268.69 230.87,270.57 C236.38,272.44 241.89,274.12 247.4,275.68 C252.91,277.24 258.42,278.55 263.93,279.94 C269.44,281.34 274.96,282.96 280.47,284.04 C285.98,285.12 291.49,285.54 297,286.42 C302.51,287.3 308.02,288.44 313.53,289.32 C319.04,290.2 324.56,290.94 330.07,291.71 C335.58,292.48 341.09,293.27 346.6,293.93 C352.11,294.58 357.62,295.15 363.13,295.63 C368.64,296.11 374.16,296.34 379.67,296.82 C385.18,297.31 393.44,298.24 396.2,298.53" fill="none" stroke="#f26464" stroke-width="1.35"/>
<path d="M197.8,257.61 C200.56,259.43 208.82,265.34 214.33,268.52 C219.84,271.7 225.36,274.23 230.87,276.7 C236.38,279.18 241.89,281.14 247.4,283.35 C252.91,285.57 258.42,287.96 263.93,290 C269.44,292.05 274.96,293.95 280.47,295.63 C285.98,297.31 291.49,298.61 297,300.06 C302.51,301.51 308.02,303.02 313.53,304.33 C319.04,305.63 324.56,306.74 330.07,307.91 C335.58,309.07 341.09,310.18 346.6,311.32 C352.11,312.45 357.62,313.7 363.13,314.73 C368.64,315.75 374.16,316.57 379.67,317.45 C385.18,318.33 393.44,319.59 396.2,320.01" fill="none" stroke="#56c690" stroke-width="1.35"/>
<path d="M197.8,258.29 C200.56,260.85 208.82,269.37 214.33,273.64 C219.84,277.9 225.36,280.63 230.87,283.87 C236.38,287.11 241.89,290.37 247.4,293.07 C252.91,295.77 258.42,297.79 263.93,300.06 C269.44,302.34 274.96,304.78 280.47,306.71 C285.98,308.64 291.49,310.01 297,311.66 C302.51,313.31 308.02,315.21 313.53,316.6 C319.04,317.99 324.56,318.87 330.07,320.01 C335.58,321.15 341.09,322.26 346.6,323.42 C352.11,324.59 357.62,325.84 363.13,327 C368.64,328.17 374.16,329.28 379.67,330.41 C385.18,331.55 393.44,333.25 396.2,333.82" fill="none" stroke="#f2d070" stroke-width="1.35"/>
<path d="M197.8,335.02 C200.56,334.73 208.82,333.77 214.33,333.31 C219.84,332.86 225.36,332.74 230.87,332.29 C236.38,331.83 241.89,331.09 247.4,330.58 C252.91,330.07 258.42,329.56 263.93,329.22 C269.44,328.88 274.96,328.79 280.47,328.54 C285.98,328.28 291.49,328 297,327.68 C302.51,327.37 308.02,326.89 313.53,326.66 C319.04,326.43 324.56,326.49 330.07,326.32 C335.58,326.15 341.09,325.87 346.6,325.64 C352.11,325.41 357.62,325.18 363.13,324.96 C368.64,324.73 374.16,324.47 379.67,324.27 C385.18,324.08 393.44,323.85 396.2,323.76" fill="none" stroke="#98b8e0" stroke-width="1.35"/>
<path d="M197.8,419.24 C200.56,418.28 208.82,415.07 214.33,413.45 C219.84,411.83 225.36,410.86 230.87,409.52 C236.38,408.19 241.89,406.6 247.4,405.43 C252.91,404.27 258.42,403.5 263.93,402.53 C269.44,401.57 274.96,400.52 280.47,399.63 C285.98,398.75 291.49,398.02 297,397.25 C302.51,396.48 308.02,395.69 313.53,395.03 C319.04,394.38 324.56,393.89 330.07,393.33 C335.58,392.76 341.09,392.18 346.6,391.62 C352.11,391.07 357.62,390.51 363.13,390 C368.64,389.49 374.16,389.02 379.67,388.55 C385.18,388.08 393.44,387.42 396.2,387.19" fill="none" stroke="#ea8ccc" stroke-width="1.35"/>
<path d="M196,251.21L199.6,254.81M196,254.81L199.6,251.21" stroke="#1a1a1a" stroke-width="1.1"/>
<path d="M212.53,257.17L216.13,260.77M212.53,260.77L216.13,257.17" stroke="#1a1a1a" stroke-width="1.1"/>
<path d="M229.07,261.61L232.67,265.21M229.07,265.21L232.67,261.61" stroke="#1a1a1a" stroke-width="1.1"/>
<path d="M245.6,264.67L249.2,268.27M245.6,268.27L249.2,264.67" stroke="#1a1a1a" stroke-width="1.1"/>
<path d="M262.13,267.91L265.73,271.51M262.13,271.51L265.73,267.91" stroke="#1a1a1a" stroke-width="1.1"/>
<path d="M278.67,270.47L282.27,274.07M278.67,274.07L282.27,270.47" stroke="#1a1a1a" stroke-width="1.1"/>
<path d="M295.2,272.86L298.8,276.46M295.2,276.46L298.8,272.86" stroke="#1a1a1a" stroke-width="1.1"/>
<path d="M311.73,275.07L315.33,278.68M311.73,278.68L315.33,275.07" stroke="#1a1a1a" stroke-width="1.1"/>
<path d="M328.27,277.29L331.87,280.89M328.27,280.89L331.87,277.29" stroke="#1a1a1a" stroke-width="1.1"/>
<path d="M344.8,279.34L348.4,282.94M344.8,282.94L348.4,279.34" stroke="#1a1a1a" stroke-width="1.1"/>
<path d="M361.33,280.87L364.93,284.47M361.33,284.47L364.93,280.87" stroke="#1a1a1a" stroke-width="1.1"/>
<path d="M377.87,282.07L381.47,285.67M377.87,285.67L381.47,282.07" stroke="#1a1a1a" stroke-width="1.1"/>
<path d="M394.4,283.43L398,287.03M394.4,287.03L398,283.43" stroke="#1a1a1a" stroke-width="1.1"/>
<rect x="195.5" y="253.26" width="4.6" height="4.6" fill="#ee0000"/>
<rect x="212.03" y="262.13" width="4.6" height="4.6" fill="#ee0000"/>
<rect x="228.57" y="268.27" width="4.6" height="4.6" fill="#ee0000"/>
<rect x="245.1" y="273.38" width="4.6" height="4.6" fill="#ee0000"/>
<rect x="261.63" y="277.64" width="4.6" height="4.6" fill="#ee0000"/>
<rect x="278.17" y="281.74" width="4.6" height="4.6" fill="#ee0000"/>
<rect x="294.7" y="284.12" width="4.6" height="4.6" fill="#ee0000"/>
<rect x="311.23" y="287.02" width="4.6" height="4.6" fill="#ee0000"/>
<rect x="327.77" y="289.41" width="4.6" height="4.6" fill="#ee0000"/>
<rect x="344.3" y="291.62" width="4.6" height="4.6" fill="#ee0000"/>
<rect x="360.83" y="293.33" width="4.6" height="4.6" fill="#ee0000"/>
<rect x="377.37" y="294.52" width="4.6" height="4.6" fill="#ee0000"/>
<rect x="393.9" y="296.23" width="4.6" height="4.6" fill="#ee0000"/>
<path d="M197.8,255.01L200.3,259.51L195.3,259.51Z" fill="#10a850"/>
<path d="M214.33,265.92L216.83,270.42L211.83,270.42Z" fill="#10a850"/>
<path d="M230.87,274.1L233.37,278.6L228.37,278.6Z" fill="#10a850"/>
<path d="M247.4,280.75L249.9,285.25L244.9,285.25Z" fill="#10a850"/>
<path d="M263.93,287.4L266.43,291.9L261.43,291.9Z" fill="#10a850"/>
<path d="M280.47,293.03L282.97,297.53L277.97,297.53Z" fill="#10a850"/>
<path d="M297,297.46L299.5,301.96L294.5,301.96Z" fill="#10a850"/>
<path d="M313.53,301.73L316.03,306.23L311.03,306.23Z" fill="#10a850"/>
<path d="M330.07,305.31L332.57,309.81L327.57,309.81Z" fill="#10a850"/>
<path d="M346.6,308.72L349.1,313.22L344.1,313.22Z" fill="#10a850"/>
<path d="M363.13,312.13L365.63,316.63L360.63,316.63Z" fill="#10a850"/>
<path d="M379.67,314.85L382.17,319.35L377.17,319.35Z" fill="#10a850"/>
<path d="M396.2,317.41L398.7,321.91L393.7,321.91Z" fill="#10a850"/>
<path d="M196,256.49L199.6,260.09M196,260.09L199.6,256.49" stroke="#f0c850" stroke-width="1.1"/>
<path d="M212.53,271.84L216.13,275.44M212.53,275.44L216.13,271.84" stroke="#f0c850" stroke-width="1.1"/>
<path d="M229.07,282.07L232.67,285.67M229.07,285.67L232.67,282.07" stroke="#f0c850" stroke-width="1.1"/>
<path d="M245.6,291.27L249.2,294.87M245.6,294.87L249.2,291.27" stroke="#f0c850" stroke-width="1.1"/>
<path d="M262.13,298.26L265.73,301.86M262.13,301.86L265.73,298.26" stroke="#f0c850" stroke-width="1.1"/>
<path d="M278.67,304.91L282.27,308.51M278.67,308.51L282.27,304.91" stroke="#f0c850" stroke-width="1.1"/>
<path d="M295.2,309.86L298.8,313.46M295.2,313.46L298.8,309.86" stroke="#f0c850" stroke-width="1.1"/>
<path d="M311.73,314.8L315.33,318.4M311.73,318.4L315.33,314.8" stroke="#f0c850" stroke-width="1.1"/>
<path d="M328.27,318.21L331.87,321.81M328.27,321.81L331.87,318.21" stroke="#f0c850" stroke-width="1.1"/>
<path d="M344.8,321.62L348.4,325.22M344.8,325.22L348.4,321.62" stroke="#f0c850" stroke-width="1.1"/>
<path d="M361.33,325.2L364.93,328.8M361.33,328.8L364.93,325.2" stroke="#f0c850" stroke-width="1.1"/>
<path d="M377.87,328.61L381.47,332.21M377.87,332.21L381.47,328.61" stroke="#f0c850" stroke-width="1.1"/>
<path d="M394.4,332.02L398,335.62M394.4,335.62L398,332.02" stroke="#f0c850" stroke-width="1.1"/>
<circle cx="197.8" cy="335.02" r="2.3" fill="#2f5fa8"/>
<circle cx="214.33" cy="333.31" r="2.3" fill="#2f5fa8"/>
<circle cx="230.87" cy="332.29" r="2.3" fill="#2f5fa8"/>
<circle cx="247.4" cy="330.58" r="2.3" fill="#2f5fa8"/>
<circle cx="263.93" cy="329.22" r="2.3" fill="#2f5fa8"/>
<circle cx="280.47" cy="328.54" r="2.3" fill="#2f5fa8"/>
<circle cx="297" cy="327.68" r="2.3" fill="#2f5fa8"/>
<circle cx="313.53" cy="326.66" r="2.3" fill="#2f5fa8"/>
<circle cx="330.07" cy="326.32" r="2.3" fill="#2f5fa8"/>
<circle cx="346.6" cy="325.64" r="2.3" fill="#2f5fa8"/>
<circle cx="363.13" cy="324.96" r="2.3" fill="#2f5fa8"/>
<circle cx="379.67" cy="324.27" r="2.3" fill="#2f5fa8"/>
<circle cx="396.2" cy="323.76" r="2.3" fill="#2f5fa8"/>
<path d="M197.8,416.84L200.2,419.24L197.8,421.64L195.4,419.24Z" fill="#d83c9c"/>
<path d="M214.33,411.05L216.73,413.45L214.33,415.85L211.93,413.45Z" fill="#d83c9c"/>
<path d="M230.87,407.12L233.27,409.52L230.87,411.92L228.47,409.52Z" fill="#d83c9c"/>
<path d="M247.4,403.03L249.8,405.43L247.4,407.83L245,405.43Z" fill="#d83c9c"/>
<path d="M263.93,400.13L266.33,402.53L263.93,404.93L261.53,402.53Z" fill="#d83c9c"/>
<path d="M280.47,397.24L282.87,399.63L280.47,402.03L278.07,399.63Z" fill="#d83c9c"/>
<path d="M297,394.85L299.4,397.25L297,399.65L294.6,397.25Z" fill="#d83c9c"/>
<path d="M313.53,392.63L315.93,395.03L313.53,397.43L311.13,395.03Z" fill="#d83c9c"/>
<path d="M330.07,390.93L332.47,393.33L330.07,395.73L327.67,393.33Z" fill="#d83c9c"/>
<path d="M346.6,389.22L349,391.62L346.6,394.02L344.2,391.62Z" fill="#d83c9c"/>
<path d="M363.13,387.6L365.53,390L363.13,392.4L360.73,390Z" fill="#d83c9c"/>
<path d="M379.67,386.15L382.07,388.55L379.67,390.95L377.27,388.55Z" fill="#d83c9c"/>
<path d="M396.2,384.79L398.6,387.19L396.2,389.59L393.8,387.19Z" fill="#d83c9c"/>
<path d="M379.3,317.1V304.2H395.4" fill="none" stroke="#333" stroke-width="1"/><path d="M391.9,301.7L395.4,304.2L391.9,306.7" fill="none" stroke="#333" stroke-width="1"/>
<path d="M383.5,323.5V313.4H395.4" fill="none" stroke="#333" stroke-width="1"/><path d="M391.9,310.9L395.4,313.4L391.9,315.9" fill="none" stroke="#333" stroke-width="1"/>
<path d="M377,331.3V335H395.4" fill="none" stroke="#333" stroke-width="1"/><path d="M391.9,332.5L395.4,335L391.9,337.5" fill="none" stroke="#333" stroke-width="1"/>
<path d="M373.3,389.1V379.5H395.4" fill="none" stroke="#333" stroke-width="1"/><path d="M391.9,377L395.4,379.5L391.9,382" fill="none" stroke="#333" stroke-width="1"/>
<path d="M196.5,464.7h21.6" stroke="#8c8c8c" stroke-width="1.3"/>
<path d="M205.5,462.9L209.1,466.5M205.5,466.5L209.1,462.9" stroke="#1a1a1a" stroke-width="1.1"/>
<text x="220.1" y="468.2" font-size="10" font-weight="bold" fill="#111" stroke="#111" stroke-width="0.25" textLength="21.2" lengthAdjust="spacingAndGlyphs">CH4</text>
<path d="M275.1,464.7h21.6" stroke="#f26464" stroke-width="1.3"/>
<rect x="283.6" y="462.4" width="4.6" height="4.6" fill="#ee0000"/>
<text x="299.1" y="468.2" font-size="10" font-weight="bold" fill="#111" stroke="#111" stroke-width="0.25" textLength="20.5" lengthAdjust="spacingAndGlyphs">CO2</text>
<path d="M353.5,464.7h21.6" stroke="#56c690" stroke-width="1.3"/>
<path d="M364.3,462.1L366.8,466.6L361.8,466.6Z" fill="#10a850"/>
<text x="377.5" y="468.2" font-size="10" font-weight="bold" fill="#111" stroke="#111" stroke-width="0.25" textLength="13.1" lengthAdjust="spacingAndGlyphs">H2</text>
<path d="M196.5,478.5h21.6" stroke="#f2d070" stroke-width="1.3"/>
<path d="M205.5,476.7L209.1,480.3M205.5,480.3L209.1,476.7" stroke="#f0c850" stroke-width="1.1"/>
<text x="220.1" y="482" font-size="10" font-weight="bold" fill="#111" stroke="#111" stroke-width="0.25" textLength="13.5" lengthAdjust="spacingAndGlyphs">CO</text>
<path d="M275.1,478.5h21.6" stroke="#98b8e0" stroke-width="1.3"/>
<circle cx="285.9" cy="478.5" r="2.3" fill="#2f5fa8"/>
<text x="299.1" y="482" font-size="10" font-weight="bold" fill="#111" stroke="#111" stroke-width="0.25" textLength="30.4" lengthAdjust="spacingAndGlyphs">H2/CO</text>
<path d="M353.5,478.5h21.6" stroke="#ea8ccc" stroke-width="1.3"/>
<path d="M364.3,476.1L366.7,478.5L364.3,480.9L361.9,478.5Z" fill="#d83c9c"/>
<text x="377.5" y="482" font-size="10" font-weight="bold" fill="#111" stroke="#111" stroke-width="0.25" textLength="20.7" lengthAdjust="spacingAndGlyphs">H2O</text>
</g>
</svg></body></html>
